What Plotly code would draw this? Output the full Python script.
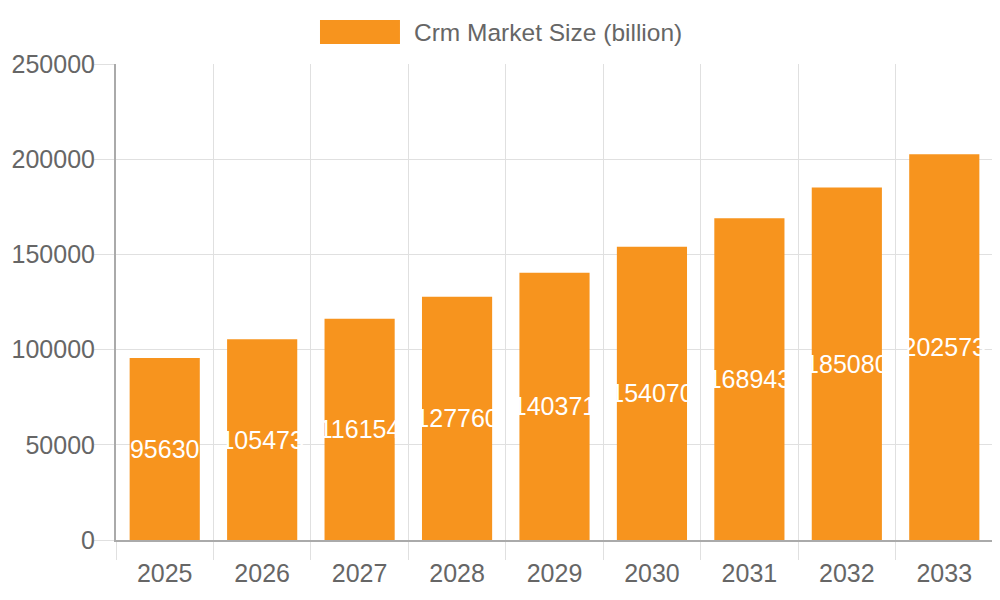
import plotly.graph_objects as go

# data
years = ["2025", "2026", "2027", "2028", "2029", "2030", "2031", "2032", "2033"]
market_size = [95630, 105473, 116154, 127760, 140371, 154070, 168943, 185080, 202573]
series_name = "Crm Market Size (billion)"

bar_color = "#F7941E"
grid_color = "#e0e0e0"
font_color = "#666666"

fig = go.Figure()

fig.add_trace(go.Bar(
    x=years, y=market_size, name=series_name,
    marker=dict(color=bar_color, line=dict(width=0)),
    width=0.72,
    text=[str(v) for v in market_size],
    textposition="inside", insidetextanchor="middle",
    textangle=0, constraintext="none",
    textfont=dict(color="white", size=25, family="Liberation Sans"),
    showlegend=False,
))

# legend drawn by hand, chart.js style
fig.add_shape(type="rect", xref="paper", yref="paper",
              x0=0.2326, x1=0.3238, y0=1.042, y1=1.0924,
              fillcolor=bar_color, line=dict(width=0))
fig.add_annotation(text=series_name, xref="paper", yref="paper",
                   x=0.3375, y=1.067, xanchor="left", yanchor="middle",
                   showarrow=False, font=dict(size=24.5, color=font_color))
# grid line on the right edge
fig.add_shape(type="line", xref="paper", yref="paper",
              x0=1, x1=1, y0=0, y1=1,
              line=dict(color=grid_color, width=1))

# page body has an 8px margin, so the figure is sized and placed to make up for it
fig.update_layout(
    width=992, height=592,
    margin=dict(l=108, r=7, t=56, b=60),
    plot_bgcolor="white", paper_bgcolor="white",
    font=dict(family="Liberation Sans", size=25, color=font_color),
    xaxis=dict(type="category", tickson="boundaries", ticks="outside",
               ticklen=18, tickcolor=grid_color, showgrid=True,
               gridcolor=grid_color, gridwidth=1,
               showline=True, linecolor="#aaaaaa", linewidth=2,
               ticklabelstandoff=10, automargin=False),
    yaxis=dict(range=[0, 250000], dtick=50000, ticks="outside",
               ticklen=20, tickcolor=grid_color, gridcolor=grid_color,
               showline=True, linecolor="#aaaaaa", linewidth=2,
               zeroline=False, tickformat="d",
               ticklabelstandoff=-6, automargin=False),
)

fig.write_html("out.html")
